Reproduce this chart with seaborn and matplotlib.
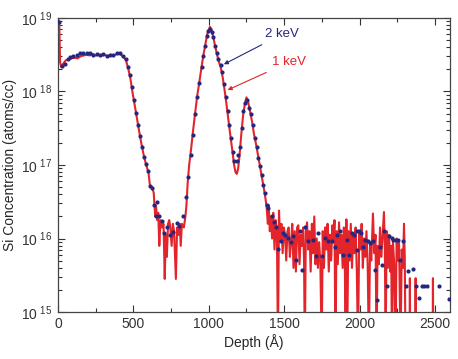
import numpy as np
import pandas as pd
import matplotlib
matplotlib.use('Agg')
import matplotlib.pyplot as plt
from matplotlib.ticker import LogLocator, NullFormatter
import seaborn as sns

# 2 keV implant (blue dots): depth (A) and log10 of Si concentration
depth_2kev = [5, 29, 46, 64, 80, 101, 124, 146, 168, 190, 212, 234, 257, 279, 300, 323,
              345, 367, 389, 411, 433, 449, 462, 477, 491, 504, 517, 530, 544, 557, 570,
              584, 597, 610, 623, 637, 650, 656, 670, 690, 703, 723, 743, 763, 789, 802,
              829, 849, 862, 882, 897, 908, 924, 937, 953, 964, 975, 986, 997, 1008, 1019,
              1030, 1041, 1052, 1063, 1079, 1090, 1101, 1112, 1125, 1136, 1147, 1158, 1169,
              1185, 1196, 1207, 1218, 1229, 1240, 1255, 1268, 1280, 1291, 1306, 1318, 1328,
              1340, 1351, 1362, 1375, 1384, 1395, 1417, 1432, 1446, 1461, 1477, 1490, 1505,
              1527, 1543, 1560, 1578, 1605, 1616, 1638, 1660, 1693, 1711, 1726, 1749, 1770,
              1792, 1815, 1837, 1852, 1870, 1892, 1914, 1928, 1948, 1963, 1981, 1985, 1998,
              2009, 2020, 2036, 2058, 2069, 2087, 2102, 2117, 2135, 2146, 2164, 2184, 2197,
              2213, 2223, 2241, 2257, 2268, 2286, 2308, 2323, 2356, 2374, 2396, 2412, 2427,
              2449, 2528, 2595]
log_2kev = [18.95, 18.35, 18.38, 18.44, 18.47, 18.48, 18.50, 18.52, 18.52, 18.53, 18.52,
            18.50, 18.51, 18.50, 18.51, 18.48, 18.50, 18.50, 18.52, 18.52, 18.48, 18.44,
            18.33, 18.22, 18.06, 17.88, 17.71, 17.55, 17.39, 17.24, 17.11, 17.02, 16.92,
            16.71, 16.69, 16.45, 16.31, 16.49, 16.30, 16.24, 16.08, 16.16, 16.05, 16.09,
            16.21, 16.17, 16.30, 16.57, 16.83, 17.14, 17.41, 17.69, 17.92, 18.12, 18.33,
            18.48, 18.62, 18.76, 18.82, 18.85, 18.81, 18.74, 18.62, 18.53, 18.44, 18.36,
            18.26, 18.10, 17.92, 17.73, 17.55, 17.37, 17.18, 17.05, 17.05, 17.14, 17.24,
            17.51, 17.73, 17.85, 17.88, 17.78, 17.69, 17.55, 17.37, 17.24, 17.10, 16.98,
            16.87, 16.73, 16.62, 16.46, 16.42, 16.31, 16.23, 16.16, 15.86, 15.96, 16.08,
            16.05, 16.01, 15.95, 16.03, 15.71, 16.10, 15.57, 16.16, 15.96, 15.98, 15.76,
            16.08, 15.76, 16.01, 15.96, 15.97, 15.89, 16.05, 16.10, 15.78, 15.98, 15.78,
            16.08, 16.05, 16.10, 15.85, 16.10, 16.08, 15.89, 15.98, 15.96, 15.94, 15.96,
            15.57, 15.16, 15.89, 15.64, 16.10, 15.35, 16.04, 16.01, 15.98, 15.98, 15.98,
            15.71, 15.97, 15.35, 15.56, 15.58, 15.35, 15.19, 15.35, 15.35, 15.35, 15.35,
            15.18]

# 1 keV implant (red line): depth (A) and log10 of Si concentration (14.5 = below scale)
depth_1kev = [0, 8, 14, 22, 35, 50, 70, 90, 110, 130, 150, 170, 190, 210, 230, 250, 270,
              290, 310, 330, 350, 370, 390, 410, 430, 450, 465, 480, 495, 510, 525, 540,
              555, 570, 585, 600, 610, 625, 635, 645, 650, 658, 665, 672, 680, 690, 700,
              708, 715, 722, 730, 738, 745, 754, 762, 770, 782, 790, 800, 808, 814, 822,
              835, 845, 852, 860, 870, 882, 895, 908, 922, 937, 952, 965, 978, 990, 1000,
              1008, 1018, 1030, 1042, 1055, 1068, 1080, 1092, 1105, 1118, 1130, 1142, 1155,
              1168, 1178, 1186, 1195, 1205, 1215, 1228, 1240, 1250, 1262, 1275, 1288, 1300,
              1315, 1328, 1340, 1352, 1364, 1376, 1385, 1392, 1398, 1405, 1412, 1420, 1428,
              1436, 1444, 1452, 1459, 1466, 1474, 1482, 1490, 1498, 1506, 1514, 1522, 1530,
              1538, 1546, 1554, 1562, 1570, 1578, 1586, 1594, 1602, 1610, 1618, 1626, 1632,
              1637, 1644, 1652, 1660, 1668, 1676, 1684, 1692, 1700, 1708, 1716, 1724, 1732,
              1740, 1749, 1756, 1764, 1772, 1780, 1788, 1796, 1804, 1812, 1820, 1828, 1834,
              1840, 1848, 1856, 1864, 1872, 1880, 1888, 1896, 1902, 1908, 1913, 1918, 1926,
              1934, 1942, 1950, 1958, 1966, 1974, 1982, 1990, 1998, 2006, 2014, 2022, 2030,
              2038, 2046, 2054, 2062, 2070, 2078, 2089, 2098, 2106, 2113, 2120, 2128, 2136,
              2144, 2152, 2162, 2168, 2173, 2180, 2188, 2196, 2204, 2210, 2215, 2222, 2230,
              2239, 2246, 2254, 2262, 2272, 2280, 2288, 2295, 2300, 2305, 2332, 2334, 2336,
              2370, 2372, 2374, 2485, 2487, 2489]
log_1kev = [18.99, 18.95, 18.40, 18.33, 18.38, 18.42, 18.44, 18.45, 18.46, 18.45, 18.48,
            18.49, 18.50, 18.49, 18.51, 18.49, 18.50, 18.49, 18.50, 18.48, 18.50, 18.49,
            18.51, 18.51, 18.48, 18.43, 18.32, 18.18, 17.98, 17.80, 17.62, 17.44, 17.27,
            17.12, 17.00, 16.90, 16.72, 16.70, 16.62, 16.30, 16.45, 16.25, 16.35, 15.90,
            16.25, 16.15, 16.20, 15.45, 16.05, 15.75, 16.20, 16.25, 16.15, 15.90, 16.20,
            16.10, 15.45, 16.15, 16.05, 16.20, 15.90, 16.20, 16.15, 16.30, 16.45, 16.75,
            17.00, 17.20, 17.45, 17.68, 17.92, 18.12, 18.33, 18.50, 18.65, 18.78, 18.84,
            18.88, 18.83, 18.74, 18.62, 18.50, 18.40, 18.32, 18.20, 18.02, 17.82, 17.62,
            17.42, 17.22, 17.00, 16.90, 16.88, 16.95, 17.15, 17.40, 17.68, 17.84, 17.92,
            17.85, 17.72, 17.58, 17.42, 17.27, 17.12, 16.98, 16.85, 16.70, 16.55, 16.40,
            16.20, 16.45, 16.10, 16.30, 16.00, 16.35, 15.85, 16.25, 16.10, 14.50, 16.38,
            15.95, 16.20, 15.80, 16.15, 16.05, 15.70, 16.10, 16.15, 15.75, 15.95, 16.20,
            15.60, 16.10, 15.55, 16.15, 16.18, 15.65, 16.05, 15.90, 16.15, 15.70, 14.50,
            16.10, 16.22, 15.85, 16.10, 15.55, 16.20, 15.80, 16.30, 15.65, 16.00, 15.60,
            15.95, 15.70, 14.50, 16.10, 15.60, 16.15, 15.85, 16.20, 15.55, 16.05, 15.70,
            16.18, 15.95, 16.25, 14.50, 16.10, 15.65, 16.22, 15.80, 16.05, 15.60, 16.15,
            15.75, 14.50, 16.26, 14.50, 16.10, 15.70, 16.20, 15.60, 16.05, 15.80, 16.15,
            15.55, 14.50, 16.10, 15.85, 16.20, 15.60, 16.00, 15.75, 16.10, 15.65, 14.50,
            15.95, 15.70, 16.34, 15.80, 16.05, 14.50, 15.90, 15.65, 16.15, 15.75, 16.00,
            16.36, 15.85, 14.50, 16.10, 15.60, 16.05, 15.55, 15.90, 14.50, 15.95, 15.65,
            14.50, 16.00, 15.70, 15.95, 14.50, 15.85, 15.60, 16.20, 15.75, 14.50, 14.50,
            15.46, 14.50, 14.50, 15.46, 14.50, 14.50, 15.46, 14.50]

x_ticks = [0, 500, 1000, 1500, 2000, 2500]
y_ticks = [1e15, 1e16, 1e17, 1e18, 1e19]
y_tick_labels = ['$\\mathregular{10^{\\ 15}}$', '$\\mathregular{10^{\\ 16}}$',
                 '$\\mathregular{10^{\\ 17}}$', '$\\mathregular{10^{\\ 18}}$',
                 '$\\mathregular{10^{\\ 19}}$']

blue = '#27267f'
red = '#e3242b'

df_2 = pd.DataFrame({'depth': depth_2kev, 'conc': np.power(10.0, log_2kev)})
df_1 = pd.DataFrame({'depth': depth_1kev, 'conc': np.power(10.0, log_1kev)})

sns.set_style('ticks')
plt.rcParams['font.family'] = ['Liberation Sans', 'DejaVu Sans']
plt.rcParams['mathtext.fontset'] = 'custom'
plt.rcParams['mathtext.rm'] = 'Liberation Sans'

fig = plt.figure(figsize=(4.58, 3.59), dpi=100)
ax = fig.add_axes([0.1266, 0.1309, 0.8559, 0.8190])

sns.lineplot(data=df_1, x='depth', y='conc', color=red, linewidth=1.5,
             sort=False, estimator=None, ax=ax)
sns.scatterplot(data=df_2, x='depth', y='conc', color=blue, marker='o', s=9,
                linewidth=0, ax=ax, zorder=3)

ax.set_yscale('log')
ax.set_xlim(0, 2600)
ax.set_ylim(1e15, 1e19)
ax.set_xticks(x_ticks)
ax.set_xticks(np.arange(250, 2600, 500), minor=True)
ax.set_yticks(y_ticks)
ax.set_yticklabels(y_tick_labels)
ax.yaxis.set_minor_locator(LogLocator(base=10, subs=np.arange(2, 10), numticks=20))
ax.yaxis.set_minor_formatter(NullFormatter())
ax.tick_params(axis='both', which='both', direction='in', top=True, right=True,
               labelsize=10, colors='#333333', width=0.8)
ax.tick_params(axis='both', which='major', length=5)
ax.tick_params(axis='both', which='minor', length=3)
ax.tick_params(axis='y', which='major', pad=4)
for s in ax.spines.values():
    s.set_color('#444444')
    s.set_linewidth(0.9)

ax.set_xlabel('Depth (Å)', fontsize=10, labelpad=2)
ax.set_ylabel('Si Concentration (atoms/cc)', fontsize=10, labelpad=3)

ax.annotate('2 keV', xy=(1100, 10**18.37), xytext=(1375, 10**18.78),
            color=blue, fontsize=9.5, va='center', ha='left',
            arrowprops=dict(arrowstyle='-|>', color=blue, lw=0.8,
                            mutation_scale=6, shrinkA=2, shrinkB=0))
ax.annotate('1 keV', xy=(1125, 10**18.02), xytext=(1420, 10**18.40),
            color=red, fontsize=9.5, va='center', ha='left',
            arrowprops=dict(arrowstyle='-|>', color=red, lw=0.8,
                            mutation_scale=6, shrinkA=2, shrinkB=0))

fig.savefig('out.png', dpi=100)
